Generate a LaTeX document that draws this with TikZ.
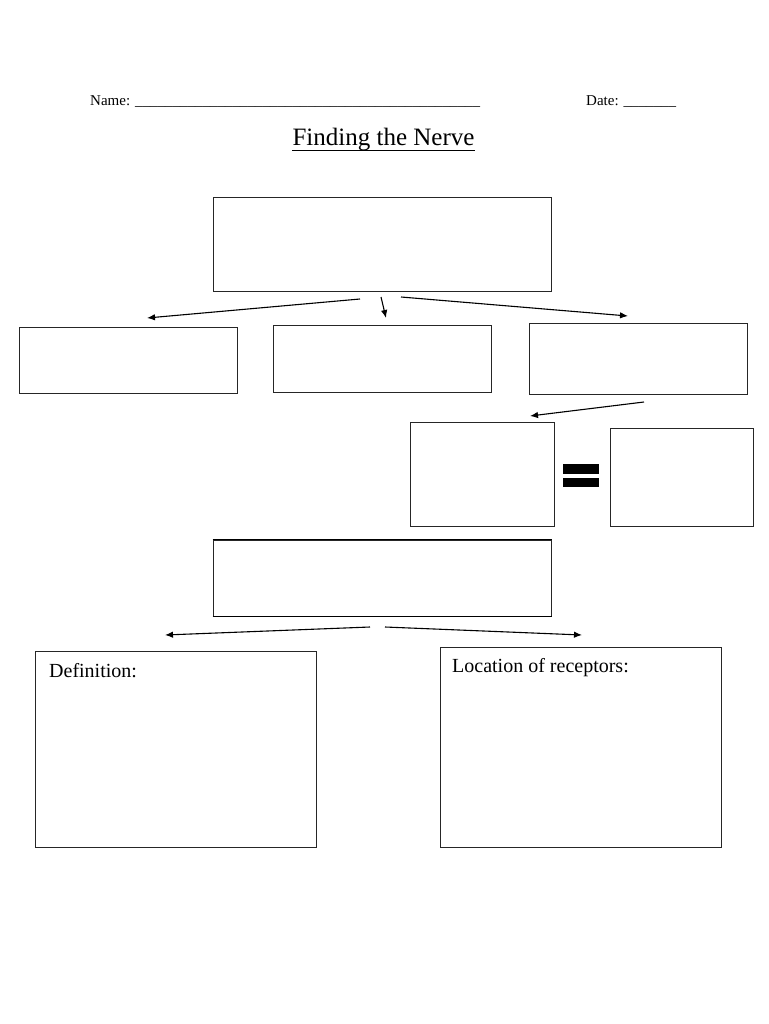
\documentclass[tikz,border=0pt]{standalone}
\usepackage{fontspec}
\setmainfont{Liberation Serif}
\usetikzlibrary{arrows.meta}
\begin{document}
\begin{tikzpicture}[x=1pt,y=-1pt,
  box/.style={draw=black!85,line width=1pt},
  conn/.style={draw=black,line width=1.1pt,-{Latex[length=8pt,width=6.5pt]}},
  lbl/.style={anchor=base west,inner sep=0pt,font=\fontsize{20}{24}\selectfont}]
\useasboundingbox[fill=white] (0,0) rectangle (768,1024);
% header
\node[anchor=base west,inner sep=0pt,font=\fontsize{15}{17}\selectfont] (name) at (90,106) {Name: \_\_\_\_\_\_\_\_\_\_\_\_\_\_\_\_\_\_\_\_\_\_\_\_\_\_\_\_\_\_\_\_\_\_\_\_\_\_\_\_\_\_\_\_\_\_};
\node[anchor=base west,inner sep=0pt,font=\fontsize{15}{17}\selectfont] (date) at (586,106) {Date: \_\_\_\_\_\_\_};
\node[anchor=base,inner sep=0pt,font=\fontsize{25}{28}\selectfont] (title) at (383.5,146) {Finding the Nerve};
\draw[line width=1.6pt] ([yshift=-4.5pt]title.base west) -- ([yshift=-4.5pt]title.base east);
% boxes
\node[box,minimum width=338,minimum height=93,inner sep=0pt] (top) at (382,244.5) {};
\node[box,minimum width=218,minimum height=66,inner sep=0pt] (a) at (128,360) {};
\node[box,minimum width=218,minimum height=67,inner sep=0pt] (b) at (382,358.5) {};
\node[box,minimum width=218,minimum height=71,inner sep=0pt] (c) at (638,358.5) {};
\node[box,minimum width=144,minimum height=104,inner sep=0pt] (d) at (482,474) {};
\node[box,minimum width=143,minimum height=98,inner sep=0pt] (e) at (681.5,477) {};
\node[box,minimum width=338,minimum height=76,inner sep=0pt] (f) at (382,578) {};
\draw[line width=1.8pt] (f.north west) -- (f.north east) (f.south west) -- (f.south east);
\node[box,minimum width=281,minimum height=196,inner sep=0pt] (g) at (175.5,749) {};
\node[box,minimum width=281,minimum height=200,inner sep=0pt] (h) at (580.5,747) {};
\node[lbl] (gl) at (49,677) {Definition:};
\node[lbl] (hl) at (452,672) {Location of receptors:};
% equals sign
\fill[black] (563,464) rectangle (599,474);
\fill[black] (563,478) rectangle (599,487);
% connectors
\coordinate (t1) at (360,299);
\coordinate (t2) at (381,297);
\coordinate (t3) at (401,297);
\coordinate (a1) at (147,318);
\coordinate (b1) at (386,318);
\coordinate (c1) at (628,316);
\coordinate (c2) at (644,402);
\coordinate (d1) at (530,416);
\coordinate (f1) at (370,627);
\coordinate (f2) at (385,627);
\coordinate (g1) at (165,635);
\coordinate (h1) at (582,635);
\draw[conn] (t1) -- (a1);
\draw[conn] (t2) -- (b1);
\draw[conn] (t3) -- (c1);
\draw[conn] (c2) -- (d1);
\draw[conn] (f1) -- (g1);
\draw[conn] (f2) -- (h1);
\end{tikzpicture}
\end{document}
